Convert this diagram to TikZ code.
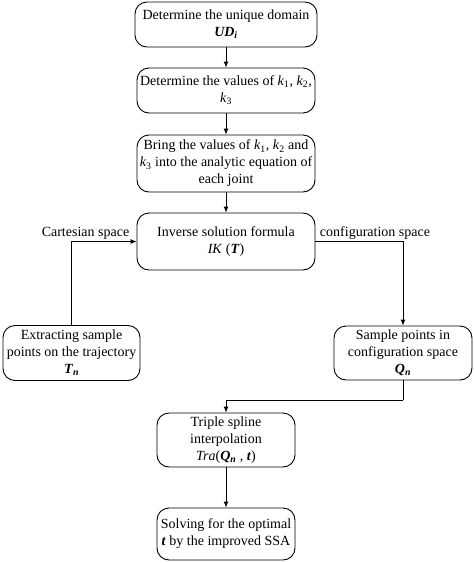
\documentclass[tikz,border=0pt]{standalone}
\usepackage{fontspec}
\setmainfont{Liberation Serif}
\usetikzlibrary{arrows.meta}
\newcommand{\bi}[1]{\textbf{\textit{#1}}}
\begin{document}
\begin{tikzpicture}[x=1pt,y=-1pt,
  box/.style={draw,rounded corners=12pt,line width=0.9pt,align=center,inner sep=0pt,
    font=\fontsize{14}{17}\selectfont},
  lbl/.style={font=\fontsize{14}{17}\selectfont,inner sep=0pt},
  arr/.style={line width=0.9pt,-{Latex[length=6pt,width=5pt]}},
  ln/.style={line width=0.9pt}]
\useasboundingbox (0,0) rectangle (474,563);
\node[box,minimum width=182pt,minimum height=45pt] (b1) at (226,24.5)
  {Determine the unique domain\\\bi{UD}\textsubscript{\bi{i}}};
\node[box,minimum width=178pt,minimum height=45pt] (b2) at (226,90.5)
  {Determine the values of \textit{k}\textsubscript{1}, \textit{k}\textsubscript{2},\\\textit{k}\textsubscript{3}};
\node[box,minimum width=178pt,minimum height=57pt] (b3) at (226,163.5)
  {Bring the values of \textit{k}\textsubscript{1}, \textit{k}\textsubscript{2} and\\\textit{k}\textsubscript{3} into the analytic equation of\\each joint};
\node[box,minimum width=178pt,minimum height=57pt] (b4) at (226,241.5)
  {Inverse solution formula\\\textit{IK} (\bi{T})};
\node[box,minimum width=137pt,minimum height=55pt] (b5) at (71.5,353)
  {Extracting sample\\points on the trajectory\\\bi{T}\textsubscript{\bi{n}}};
\node[box,minimum width=138pt,minimum height=54pt] (b6) at (403,353)
  {Sample points in\\configuration space\\\bi{Q}\textsubscript{\bi{n}}};
\node[box,minimum width=138pt,minimum height=54pt] (b7) at (226,440)
  {Triple spline\\interpolation\\\textit{Tra}(\bi{Q}\textsubscript{\bi{n}} , \bi{t})};
\node[box,minimum width=138pt,minimum height=52pt] (b8) at (226,534)
  {Solving for the optimal\\\bi{t} by the improved SSA};
\node[lbl] (lc) at (85.5,233) {Cartesian space};
\node[lbl] (lr) at (375,233) {configuration space};
\coordinate (j) at (403,400);
\draw[arr] (b1) -- (b2);
\draw[arr] (b2) -- (b3);
\draw[arr] (b3) -- (b4);
\draw[arr] (b5.north) |- (b4.west);
\draw[arr] (b4.east) -| (b6.north);
\draw[ln] (b6.south) -- (j);
\draw[arr] (j) -| (b7.north);
\draw[arr] (b7) -- (b8);
\end{tikzpicture}
\end{document}
